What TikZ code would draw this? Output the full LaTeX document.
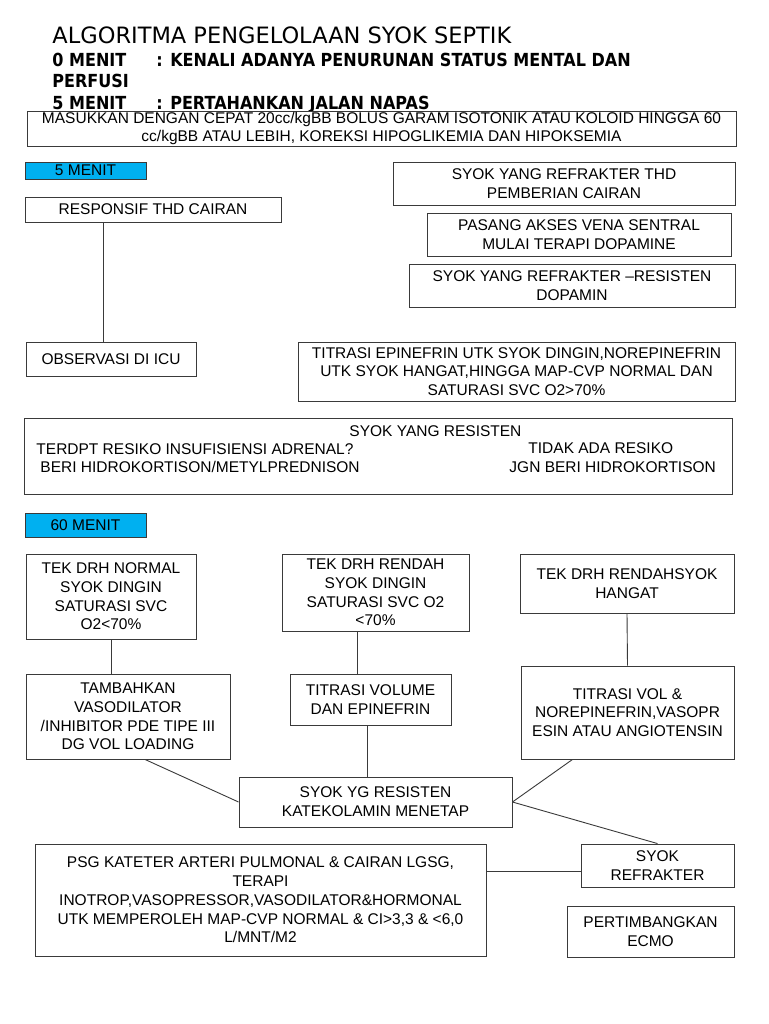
\documentclass[tikz,border=0pt]{standalone}
\usepackage{fontspec}
\setmainfont{Liberation Sans}
\newfontfamily\titlefont{DejaVu Sans}
\newfontfamily\headfont[FakeStretch=0.89]{DejaVu Sans}
\usepackage{tikz}
\usetikzlibrary{backgrounds,fit,positioning,shapes}
\definecolor{menitblue}{HTML}{00B0F0}
\definecolor{boxline}{HTML}{3A3A3A}
\tikzset{
  box/.style={draw=boxline, line width=0.9pt, fill=white, align=center, inner sep=0pt,
    font=\fontsize{15.5}{18.7}\selectfont},
  menitbox/.style={box, fill=menitblue},
  plain/.style={inner sep=0pt, font=\fontsize{15.5}{18.7}\selectfont},
  head/.style={inner sep=0pt, anchor=base west, font=\headfont\bfseries\fontsize{18}{21}\selectfont}
}

\begin{document}
\begin{tikzpicture}[x=1pt, y=-1pt, every path/.style={draw=boxline, line width=0.9pt}]
            \useasboundingbox[fill=white, draw=none] (0,0) rectangle (768,1024);

            % judul
            \node[inner sep=0pt, anchor=base west, font=\titlefont\fontsize{22.5}{26}\selectfont] (judul) at (52,44) {ALGORITMA PENGELOLAAN SYOK SEPTIK};
            \node[head] (h0) at (52,67) {\makebox[104pt][l]{0 MENIT}: KENALI ADANYA PENURUNAN STATUS MENTAL DAN};
            \node[head] (h1) at (52,88) {PERFUSI};
            \node[head] (h5) at (52,110) {\makebox[104pt][l]{5 MENIT}: PERTAHANKAN JALAN NAPAS};

            \node[box, minimum width=709pt, minimum height=35pt] (infus) at (381.5,128.5) {MASUKKAN DENGAN CEPAT 20cc/kgBB BOLUS GARAM ISOTONIK ATAU KOLOID HINGGA 60\\cc/kgBB ATAU LEBIH, KOREKSI HIPOGLIKEMIA DAN HIPOKSEMIA};

            % 5 menit
            \node[menitbox, minimum width=121pt, minimum height=17pt] (m5) at (85.5,170.5) {5 MENIT};
            \node[box, minimum width=256pt, minimum height=25pt] (respon) at (153,209.5) {RESPONSIF THD CAIRAN};
            \node[box, minimum width=170pt, minimum height=34pt] (observ) at (111,359) {OBSERVASI DI ICU};
            \node[box, minimum width=342pt, minimum height=43pt] (refrakter) at (564,183.5) {SYOK YANG REFRAKTER THD\\PEMBERIAN CAIRAN};
            \node[box, minimum width=304pt, minimum height=43pt] (akses) at (579,234.5) {PASANG AKSES VENA SENTRAL\\MULAI TERAPI DOPAMINE};
            \node[box, minimum width=326pt, minimum height=43pt] (dopamin) at (572,285.5) {SYOK YANG REFRAKTER --RESISTEN\\DOPAMIN};
            \node[box, minimum width=437pt, minimum height=59pt] (titepi) at (516.5,371.5) {TITRASI EPINEFRIN UTK SYOK DINGIN,NOREPINEFRIN\\UTK SYOK HANGAT,HINGGA MAP-CVP NORMAL DAN\\SATURASI SVC O2>70\%};

            \node[box, minimum width=708pt, minimum height=76pt] (resisten) at (378.5,456) {};
            \node[plain, anchor=base west] (rs0) at (349,436) {SYOK YANG RESISTEN};
            \node[plain, anchor=base west] (rs1) at (36,454) {TERDPT RESIKO INSUFISIENSI ADRENAL?};
            \node[plain, anchor=base west] (rs2) at (40,472) {BERI HIDROKORTISON/METYLPREDNISON};
            \node[plain, anchor=base west] (rs3) at (528,453) {TIDAK ADA RESIKO};
            \node[plain, anchor=base west] (rs4) at (509,472) {JGN BERI HIDROKORTISON};

            % 60 menit
            \node[menitbox, minimum width=121pt, minimum height=24pt] (m60) at (85.5,525) {60 MENIT};
            \node[box, minimum width=170pt, minimum height=85pt] (normal) at (111,596.5) {TEK DRH NORMAL\\SYOK DINGIN\\SATURASI SVC\\O2<70\%};
            \node[box, minimum width=187pt, minimum height=77pt] (rendah) at (375.5,592.5) {TEK DRH RENDAH\\SYOK DINGIN\\SATURASI SVC O2\\<70\%};
            \node[box, minimum width=214pt, minimum height=59pt] (hangat) at (627,583.5) {TEK DRH RENDAHSYOK\\HANGAT};
            \node[box, minimum width=204pt, minimum height=85pt] (tambah) at (128,716.5) {TAMBAHKAN\\VASODILATOR\\/INHIBITOR PDE TIPE III\\DG VOL LOADING};
            \node[box, minimum width=161pt, minimum height=51pt] (titvol) at (370.5,699.5) {TITRASI VOLUME\\DAN EPINEFRIN};
            \node[box, minimum width=213pt, minimum height=93pt] (titnor) at (627.5,712.5) {TITRASI VOL \&\\NOREPINEFRIN,VASOPR\\ESIN ATAU ANGIOTENSIN};
            \node[box, minimum width=273pt, minimum height=50pt] (katekol) at (375.5,802) {SYOK YG RESISTEN\\KATEKOLAMIN MENETAP};
            \node[box, minimum width=451pt, minimum height=112pt] (psg) at (260.5,900) {PSG KATETER ARTERI PULMONAL \& CAIRAN LGSG,\\TERAPI\\INOTROP,VASOPRESSOR,VASODILATOR\&HORMONAL\\UTK MEMPEROLEH MAP-CVP NORMAL \& CI>3,3 \& <6,0\\L/MNT/M2};
            \node[box, minimum width=153pt, minimum height=43pt] (refr2) at (657.5,865.5) {SYOK\\REFRAKTER};
            \node[box, minimum width=167pt, minimum height=51pt] (ecmo) at (650.5,931.5) {PERTIMBANGKAN\\ECMO};

            \path
            ([xshift=-50pt]respon.south) edge ([xshift=-50pt]respon.south |- observ.north)
            (normal.south) edge (normal.south |- tambah.north)
            ([xshift=-18pt]rendah.south) edge ([xshift=-18pt]rendah.south |- titvol.north)
            (hangat.south) edge (titnor.north)
            ([xshift=-3pt]titvol.south) edge ([xshift=-3pt]titvol.south |- katekol.north)
            ([xshift=17pt]tambah.south) edge (katekol.west)
            ([xshift=-55pt]titnor.south) edge (katekol.east)
            (katekol.east) edge (refr2.north)
            ([yshift=-5.5pt]refr2.west) edge ([yshift=-5.5pt]refr2.west -| psg.east);

            \end{tikzpicture}
\end{document}
